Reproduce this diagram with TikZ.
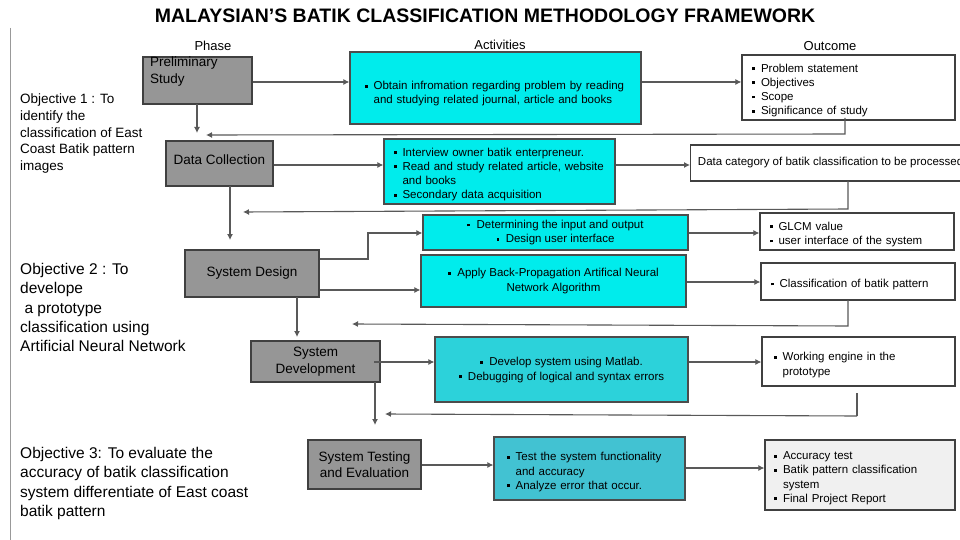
\documentclass[tikz,border=0pt]{standalone}
\usepackage{fontspec}
\setmainfont{Liberation Sans}
\usetikzlibrary{arrows.meta}
\definecolor{cyA}{RGB}{0,236,236}
\definecolor{cyB}{RGB}{44,210,218}
\definecolor{cyC}{RGB}{66,194,210}
\definecolor{grP}{RGB}{150,150,150}
\newcommand{\bsq}{\rule[0.18em]{2.8pt}{2.8pt}}
\newenvironment{blist}{\begin{list}{\bsq}{\setlength{\leftmargin}{14pt}\setlength{\labelwidth}{8pt}\setlength{\labelsep}{6pt}\setlength{\itemsep}{0pt}\setlength{\parsep}{0pt}\setlength{\topsep}{0pt}\setlength{\partopsep}{0pt}}}{\end{list}}
\begin{document}
\begin{tikzpicture}[x=1pt,y=-1pt,
  phase/.style={draw=black!75,line width=1.2pt,fill=grP,inner sep=2pt,font=\fontsize{13.5}{16.5}\selectfont},
  act/.style={draw=black!70,line width=1.2pt,fill=cyA,inner sep=3pt,font=\fontsize{11.5}{14.2}\selectfont},
  outc/.style={draw=black!75,line width=1.2pt,fill=white,inner sep=3pt,font=\fontsize{11.5}{14.2}\selectfont},
  conn/.style={draw=black!65,line width=1.1pt,-{Latex[length=6pt,width=6pt]}},
  plain/.style={draw=black!65,line width=1.1pt},
  lab/.style={font=\fontsize{13}{15}\selectfont}]
\useasboundingbox (0,0) rectangle (960,540);
\fill[white] (0,0) rectangle (960,540);
\draw[black!40,line width=0.8pt] (10,28) -- (10,540);
\node[font=\bfseries\fontsize{19.5}{21}\selectfont] (title) at (485,16) {MALAYSIAN'S BATIK CLASSIFICATION METHODOLOGY FRAMEWORK};
\node[lab] (ph) at (213,46) {Phase};
\node[lab] (ac) at (500,45) {Activities};
\node[lab] (oc) at (830,46) {Outcome};

% objectives
\node[anchor=north west,align=left,inner sep=0,font=\fontsize{13.5}{16.6}\selectfont] (o1) at (20,94) {Objective 1 : To\\identify the\\classification of East\\Coast Batik pattern\\images};
\node[anchor=north west,align=left,inner sep=0,font=\fontsize{15.5}{19.3}\selectfont] (o2) at (20,263) {Objective 2 : To\\develope\\\ a prototype\\classification using\\Artificial Neural Network};
\node[anchor=north west,align=left,inner sep=0,font=\fontsize{15.5}{19.5}\selectfont] (o3) at (20,447) {Objective 3: To evaluate the\\accuracy of batik classification\\system differentiate of East coast\\batik pattern};

% phases
\node[phase,minimum width=109pt,minimum height=47pt] (p1) at (197.5,80.5) {};
\node[anchor=north west,align=left,font=\fontsize{13.5}{16.5}\selectfont,inner sep=0] (p1t) at (150,57) {Preliminary\\Study};
\node[phase,minimum width=107pt,minimum height=45pt] (p2) at (219.5,163.5) {\raisebox{8pt}{Data Collection}};
\node[phase,minimum width=134pt,minimum height=47pt] (p3) at (252,273.5) {System Design};
\node[phase,minimum width=129pt,minimum height=41pt,align=center] (p4) at (315.5,361.5) {System\\Development};
\node[phase,minimum width=113pt,minimum height=49pt,align=center] (p5) at (364.5,464.5) {System Testing\\and Evaluation};

% activities
\node[act,minimum width=291pt,minimum height=72pt] (a1) at (495.5,88) {};
\node[act,draw=none,fill=none,text width=275pt,anchor=north west] (a1t) at (356,72) {\begin{blist}\item Obtain infromation regarding problem by reading and studying related journal, article and books\end{blist}};
\node[act,minimum width=231pt,minimum height=61pt,text width=222pt,align=left] (a2) at (499.5,171.5) {\begin{blist}\item Interview owner batik enterpreneur.\item Read and study related article, website and books\item Secondary data acquisition\end{blist}};
\node[act,minimum width=265pt,minimum height=35pt,align=center] (a3) at (555.5,232.5) {\bsq\ \ Determining the input and output\\\bsq\ \ Design user interface};
\node[act,minimum width=265pt,minimum height=52pt,align=center] (a4) at (553.5,281) {\bsq\ \ Apply Back-Propagation Artifical Neural\\Network Algorithm};
\node[act,fill=cyB,minimum width=253pt,minimum height=65pt,align=center] (a5) at (561.5,369.5) {};
\node[act,draw=none,fill=none,align=center] (a5t) at (561.5,370) {\bsq\ \ Develop system using Matlab.\\\bsq\ \ Debugging of logical and syntax errors};
\node[act,fill=cyC,minimum width=191pt,minimum height=63pt] (a6) at (589.5,468.5) {};
\node[act,draw=none,fill=none,text width=180pt,anchor=north west] (a6t) at (498,443) {\begin{blist}\item Test the system functionality and accuracy\item Analyze error that occur.\end{blist}};

% outcomes
\node[outc,minimum width=213pt,minimum height=61pt,text width=203pt] (r1) at (848.5,87.5) {\begin{blist}\item Problem statement\item Objectives\item Scope\item Significance of study\end{blist}};
\node[outc,minimum width=280pt,minimum height=36pt,anchor=west,align=left] (r2) at (690,163) {Data category of batik classification to be processed};
\node[outc,minimum width=194pt,minimum height=37pt,text width=185pt] (r3) at (857,231.5) {\begin{blist}\item GLCM value\item user interface of the system\end{blist}};
\node[outc,minimum width=194pt,minimum height=37pt,text width=185pt] (r4) at (858,281.5) {\begin{blist}\item Classification of batik pattern\end{blist}};
\node[outc,minimum width=193pt,minimum height=49pt] (r5) at (858.5,361.5) {};
\node[outc,draw=none,fill=none,text width=150pt,anchor=north west] (r5t) at (765,343) {\begin{blist}\item Working engine in the prototype\end{blist}};
\node[outc,fill=black!6,minimum width=190pt,minimum height=70pt,text width=182pt] (r6) at (860,475) {\begin{blist}\item Accuracy test\item Batik pattern classification system\item Final Project Report\end{blist}};
\fill[white] (960,140) rectangle (990,190);

% connectors
\draw[conn] (p1.east |- 0,82) -- (a1.west |- 0,82);
\draw[conn] (197,104) -- (197,133);
\draw[conn] (a1.east |- 0,82) -- (r1.west |- 0,82);
\coordinate (f1) at (206,135);
\draw[conn] (845,118) -- (845,134) -- (f1);
\draw[conn] (p2.east |- 0,165) -- (a2.west |- 0,165);
\draw[conn] (a2.east |- 0,165) -- (r2.west |- 0,165);
\coordinate (f2) at (243,212);
\draw[conn] (848,181) -- (848,209) -- (f2);
\draw[conn] (230,186) -- (230,240);
\draw[conn] (p3.east |- 0,259) -- (368,259) -- (368,233) -- (a3.west |- 0,233);
\draw[conn] (p3.east |- 0,290) -- (a4.west |- 0,290);
\draw[conn] (a3.east |- 0,233) -- (r3.west |- 0,233);
\draw[conn] (a4.east |- 0,282) -- (r4.west |- 0,282);
\coordinate (f3) at (352,324);
\draw[conn] (848,300) -- (848,326) -- (f3);
\draw[conn] (297,297) -- (297,337);
\draw[conn] (374,362) -- (a5.west |- 0,362);
\draw[conn] (a5.east |- 0,362) -- (r5.west |- 0,362);
\coordinate (f4) at (385,414);
\draw[plain] (857,393) -- (857,416);
\draw[conn] (857,416) -- (f4);
\draw[conn] (375,382) -- (375,425);
\draw[conn] (p5.east |- 0,465) -- (a6.west |- 0,465);
\draw[conn] (a6.east |- 0,468) -- (r6.west |- 0,468);
\end{tikzpicture}
\end{document}
